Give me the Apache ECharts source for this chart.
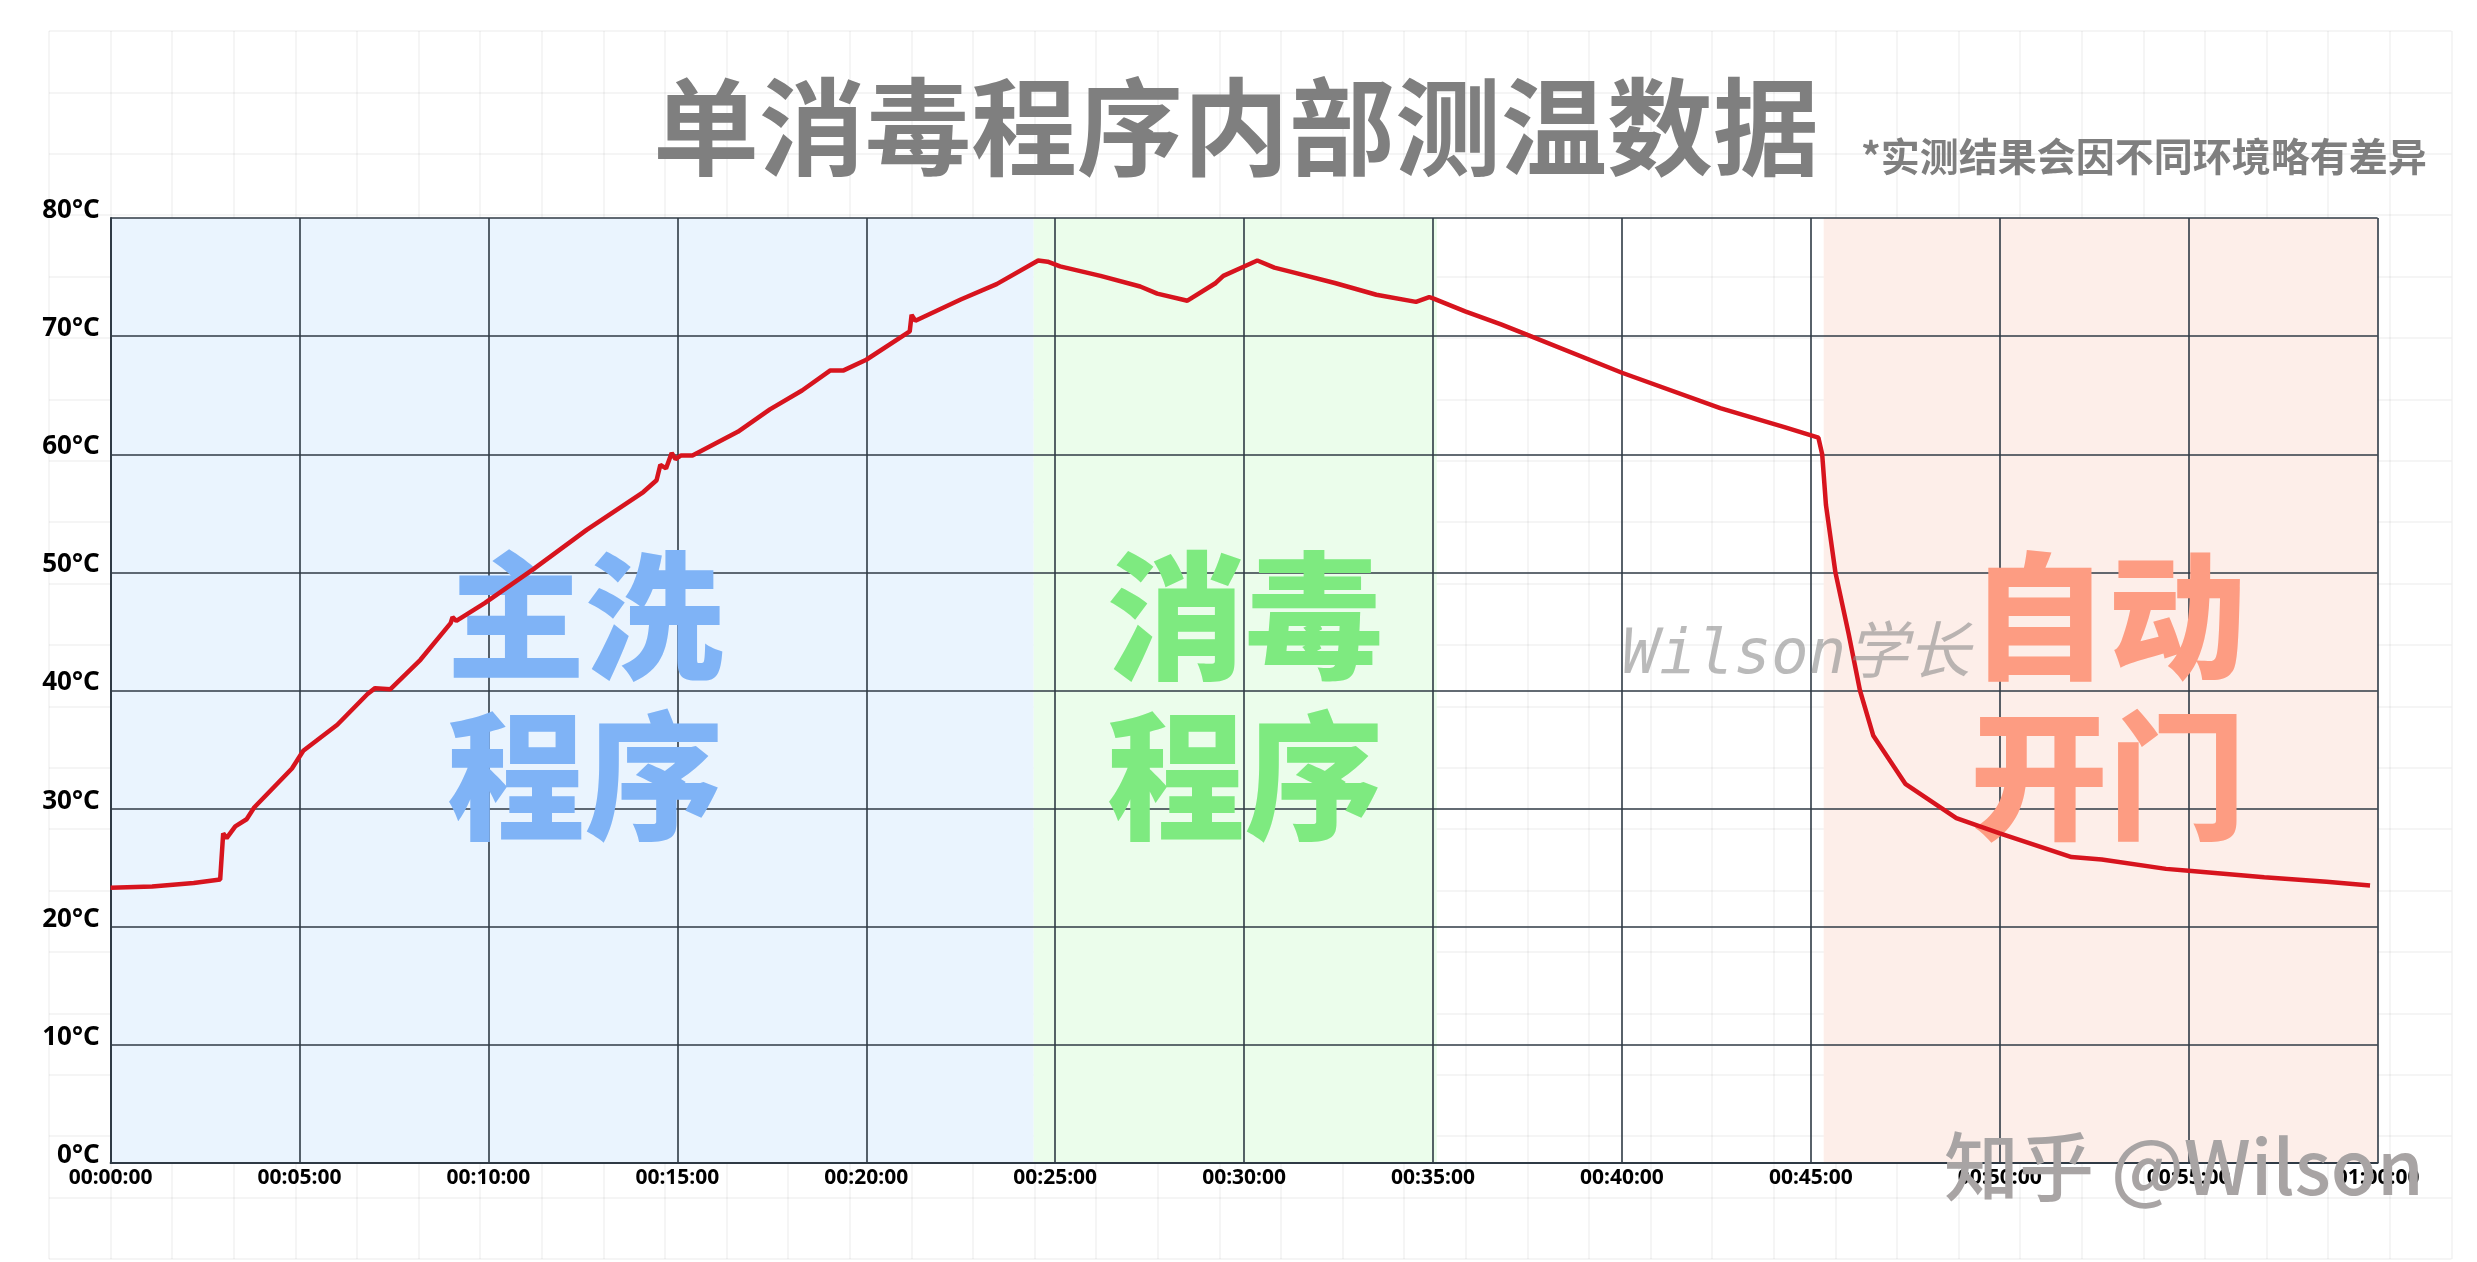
<!DOCTYPE html>
<html><head><meta charset="utf-8">
<script src="https://cdn.jsdelivr.net/npm/echarts@6/dist/echarts.min.js"></script>
<style>html,body{margin:0;padding:0;background:#fff}#c{width:2477px;height:1262px}</style>
</head><body><div id="c"></div>
<script>
// time in minutes since start
const minutes = [0,1.1,2.2,2.9,2.98,3.07,3.3,3.6,3.8,4.8,5.1,6.0,6.8,7.0,7.4,8.2,9.0,9.05,9.15,9.9,11.2,12.6,14.1,14.45,14.55,14.7,14.85,14.95,15.1,15.4,16.6,17.45,18.3,19.05,19.4,20.0,21.15,21.2,21.3,22.5,23.45,24.55,24.8,25.13,26.2,27.25,27.7,28.5,29.25,29.45,30.0,30.35,30.8,31.3,32.4,33.5,34.55,34.9,35.0,35.85,36.8,37.5,40.0,42.6,44.3,45.2,45.3,45.4,45.65,46.0,46.3,46.65,47.5,48.85,50.0,51.9,52.7,54.4,55.0,57.0,58.65,59.8];
// measured temperature (°C)
const temps = [23.3,23.4,23.7,24.0,27.9,27.5,28.5,29.1,30.1,33.4,34.9,37.1,39.7,40.2,40.1,42.6,45.7,46.2,45.9,47.4,50.3,53.6,56.8,57.8,59.1,58.8,60.1,59.6,59.9,59.9,61.9,63.8,65.4,67.1,67.1,68.0,70.4,71.8,71.3,73.1,74.4,76.4,76.3,75.9,75.1,74.2,73.6,73.0,74.5,75.1,75.9,76.4,75.8,75.4,74.5,73.5,72.9,73.3,73.2,72.1,71.0,70.1,66.9,63.9,62.3,61.4,60.0,55.7,50.0,44.8,40.0,36.2,32.1,29.2,27.9,25.9,25.7,24.9,24.75,24.2,23.8,23.5];
const xTickLabels = ['00:00:00','00:05:00','00:10:00','00:15:00','00:20:00','00:25:00','00:30:00','00:35:00','00:40:00','00:45:00','00:50:00','00:55:00','01:00:00'];
const yTickLabels = ['0°C','10°C','20°C','30°C','40°C','50°C','60°C','70°C','80°C'];
// program phases (minutes)
const phaseNames = ['主洗', '消毒', '自动'];
const phaseNames2 = ['程序', '程序', '开门'];
const phaseStart = [0, 24.43, 45.34];
const phaseEnd = [24.43, 35.1, 60];

const chart = echarts.init(document.getElementById('c'));
const bandColors = ['#eaf4fe', '#ebfdeb', '#fdeee9'];
const textColors = ['#7fb3f6', '#7eea80', '#fd9c82'];
const textCenters = [585, 1245, 2108];

const gridColor = '#2f3a45';
const faint = 'rgba(0,0,0,0.055)';

const graphics = [
  {type:'text', z:10, style:{text:'单消毒程序内部测温数据', x:1236, y:127, textAlign:'center', textVerticalAlign:'middle', fill:'#7f7f7f', font:'bold 106px "Noto Sans CJK SC"'}},
  {type:'text', z:10, style:{text:'*实测结果会因不同环境略有差异', x:1861, y:156, textAlign:'left', textVerticalAlign:'middle', fill:'#7f7f7f', font:'bold 39px "Noto Sans CJK SC"'}},
  {type:'text', z:12, style:{text:'Wilson学长', x:1622, y:657, textAlign:'left', textVerticalAlign:'middle', fill:'rgba(140,140,140,0.6)', font:'italic 62px "DejaVu Sans Mono", "Noto Sans CJK SC"'}},
  {type:'text', z:12, style:{text:'知乎 @Wilson', x:1944, y:1166, textAlign:'left', textVerticalAlign:'middle', fill:'#a8a4a4', font:'500 75px "Noto Sans CJK SC"', shadowColor:'#ffffff', shadowOffsetX:-4, shadowOffsetY:-4, shadowBlur:0}}
];
for (let i = 0; i < 3; i++) {
  graphics.push({type:'text', z:5, style:{text:phaseNames[i], x:textCenters[i], y:616, textAlign:'center', textVerticalAlign:'middle', fill:textColors[i], font:'900 138px "Noto Sans CJK SC"'}});
  graphics.push({type:'text', z:5, style:{text:phaseNames2[i], x:textCenters[i], y:776, textAlign:'center', textVerticalAlign:'middle', fill:textColors[i], font:'900 138px "Noto Sans CJK SC"'}});
}

const option = {
  backgroundColor: '#ffffff',
  animation: false,
  grid: [
    {left:110.6, top:218, width:2267, height:945, show:false},
    {left:49, top:31, width:2402.4, height:1228, show:false}
  ],
  xAxis: [
    {gridIndex:0, type:'value', min:0, max:60, interval:5, z:4,
      axisLine:{show:true, lineStyle:{color:gridColor, width:2}},
      axisTick:{show:false},
      axisLabel:{color:'#000', fontSize:21, fontWeight:'bold', fontFamily:'Noto Sans', margin:5,
        formatter: v => xTickLabels[Math.round(v/5)]},
      splitLine:{show:true, lineStyle:{color:gridColor, width:1.6}}},
    {gridIndex:1, type:'value', min:0, max:39, interval:1, z:1,
      axisLine:{show:false}, axisTick:{show:false}, axisLabel:{show:false},
      splitLine:{show:true, lineStyle:{color:faint, width:1.5}}}
  ],
  yAxis: [
    {gridIndex:0, type:'value', min:0, max:80, interval:10, z:4,
      axisLine:{show:true, lineStyle:{color:gridColor, width:2}},
      axisTick:{show:false},
      axisLabel:{color:'#000', fontSize:26, fontWeight:'bold', fontFamily:'Noto Sans', margin:11,
        verticalAlign:'bottom', lineHeight:15,
        formatter: v => yTickLabels[Math.round(v/10)]},
      splitLine:{show:true, lineStyle:{color:gridColor, width:1.6}}},
    {gridIndex:1, type:'value', min:0, max:20, interval:1, inverse:true, z:1,
      axisLine:{show:false}, axisTick:{show:false}, axisLabel:{show:false},
      splitLine:{show:true, lineStyle:{color:faint, width:1.5}}}
  ],
  graphic: graphics,
  series: [
    {type:'line', xAxisIndex:0, yAxisIndex:0, z:1, silent:true, data:[],
      markArea:{silent:true, data: phaseStart.map((s,i) => [
        {xAxis:s, itemStyle:{color:bandColors[i]}}, {xAxis:phaseEnd[i]}
      ])}},
    {type:'line', xAxisIndex:0, yAxisIndex:0, z:6, symbol:'none', smooth:false,
      lineStyle:{color:'#d7141e', width:4.5},
      data: minutes.map((m,i) => [m, temps[i]])}
  ]
};
chart.setOption(option);
</script>
</body></html>
